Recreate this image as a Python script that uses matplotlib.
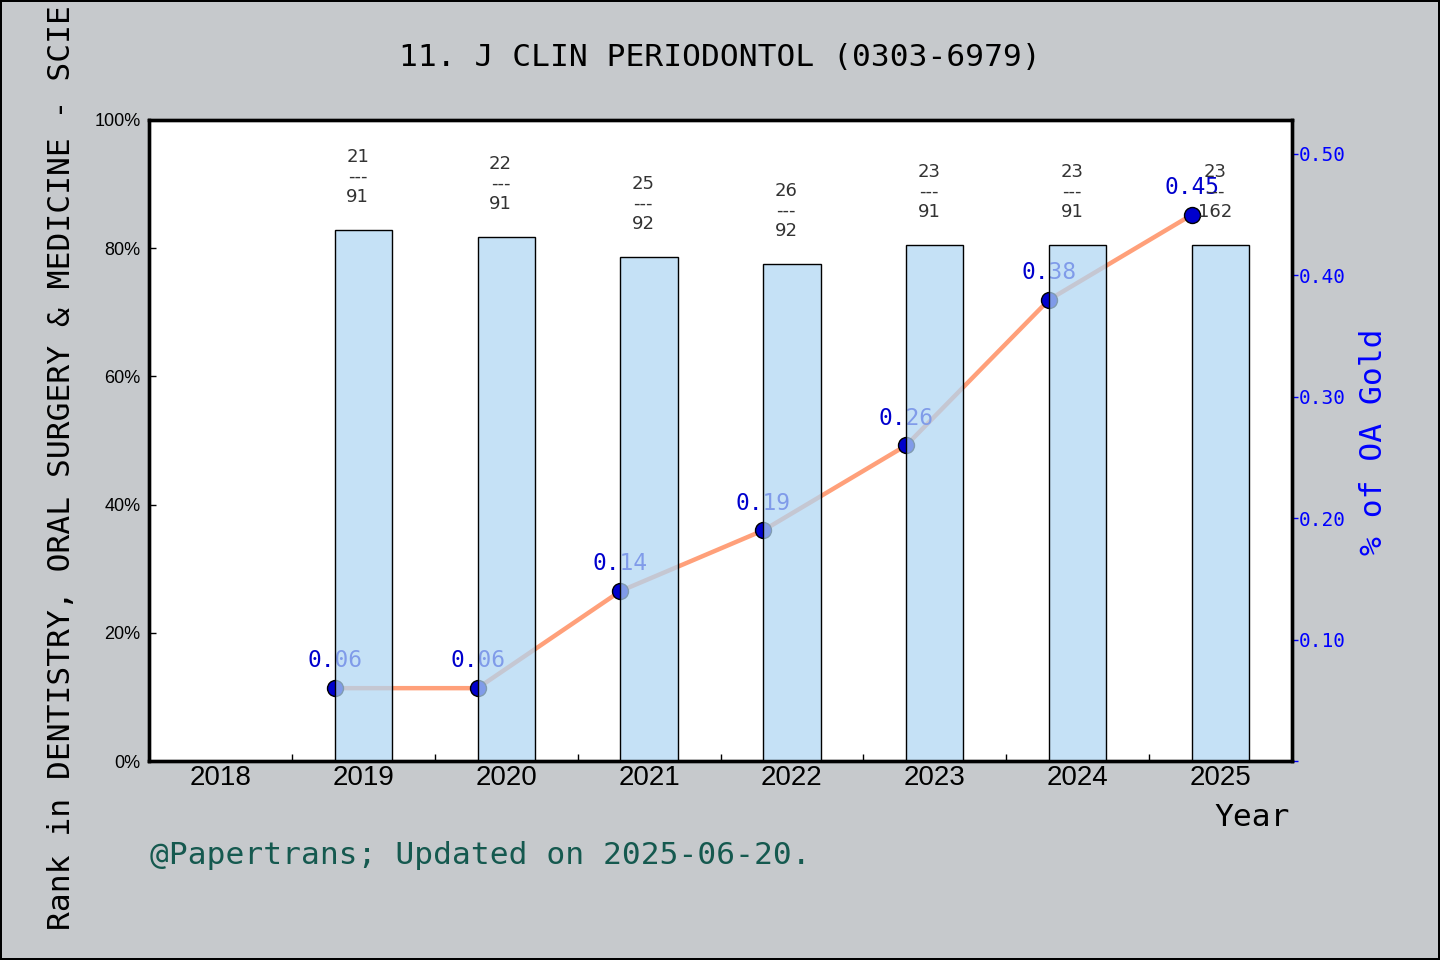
from matplotlib import pyplot as plt
from matplotlib.ticker import FixedLocator
import numpy as np

# data
years = ['2018', '2019', '2020', '2021', '2022', '2023', '2024', '2025']
bar_years = ['2019', '2020', '2021', '2022', '2023', '2024', '2025']
rank_pct = [82.8, 81.7, 78.6, 77.5, 80.5, 80.5, 80.5]
ranks = [21, 22, 25, 26, 23, 23, 23]
totals = [91, 91, 92, 92, 91, 91, 162]
oa_gold = [0.06, 0.06, 0.14, 0.19, 0.26, 0.38, 0.45]

title = '11. J CLIN PERIODONTOL (0303-6979)'
left_label = 'Rank in DENTISTRY, ORAL SURGERY & MEDICINE - SCIE'
right_label = '% of OA Gold'
note = '@Papertrans; Updated on 2025-06-20.'

mono = 'DejaVu Sans Mono'
sans = 'Liberation Sans'
bg = '#c6c9cc'

plt.rcParams['font.family'] = sans

fig = plt.figure(figsize=(14.4, 9.6), dpi=100, facecolor=bg,
                 edgecolor='black', linewidth=1.5)
ax = fig.add_axes([149/1440, 1 - 761/960, (1292 - 149)/1440, (761 - 120)/960])
ax2 = ax.twinx()

# line axis sits behind the bar axis so the translucent bars cover it
ax.set_zorder(ax2.get_zorder() + 1)
ax.patch.set_visible(False)
ax2.patch.set_visible(True)
ax2.patch.set_facecolor('white')

xpos = {y: i for i, y in enumerate(years)}
bx = np.array([xpos[y] for y in bar_years])

ax.bar(bx, rank_pct, width=0.4, color=(176/255, 214/255, 244/255, 0.73),
       edgecolor='black', linewidth=1.0)
for x, h, r, t in zip(bx, rank_pct, ranks, totals):
    ax.text(x - 0.04, h + 8.3, f'{r}\n---\n{t}', ha='center', va='center',
            fontsize=13, color='#333333', linespacing=1.15, family='DejaVu Sans')

lx = bx - 0.2
ax2.plot(lx, oa_gold, color='#ffa07a', linewidth=3.2, zorder=2)
ax2.plot(lx, oa_gold, 'o', markersize=11.5, markerfacecolor='mediumblue',
         markeredgecolor='black', markeredgewidth=1, zorder=3)
for x, v in zip(lx, oa_gold):
    ax2.text(x, v + 0.013, f'{v:.2f}', ha='center', va='bottom',
             fontsize=16.5, color='mediumblue', family=mono, zorder=4)

ax.set_xlim(-0.5, 7.5)
ax.set_ylim(0, 100)
ax2.set_ylim(0, 0.528)

ax.set_xticks(range(len(years)))
ax.set_xticklabels(years, fontsize=20)
ax.tick_params(axis='x', which='major', length=0, pad=3)
ax.xaxis.set_minor_locator(FixedLocator(np.arange(0.5, 7.6, 1.0)))
ax.tick_params(axis='x', which='minor', direction='in', length=5, width=1)

ax.set_yticks([0, 20, 40, 60, 80, 100])
ax.set_yticklabels(['0%', '20%', '40%', '60%', '80%', '100%'], fontsize=13)
ax.tick_params(axis='y', direction='in', length=5, width=1, pad=6)

ax2.set_yticks([0, 0.1, 0.2, 0.3, 0.4, 0.5])
ax2.set_yticklabels(['', '0.10', '0.20', '0.30', '0.40', '0.50'],
                    fontsize=14, color='blue', family=mono)
ax2.tick_params(axis='y', colors='blue', length=4, width=1, pad=1)

for a in (ax, ax2):
    for s in a.spines.values():
        s.set_linewidth(2.4)
        s.set_color('black')

fig.text(0.5, 1 - 57/960, title, ha='center', va='center', fontsize=22.5,
         family=mono, color='black')
fig.text(62/1440, 1 - 930/960, left_label, rotation=90, ha='center',
         va='bottom', fontsize=22.5, family=mono, color='black')
fig.text(1373/1440, 1 - 442/960, right_label, rotation=90, ha='center',
         va='center', fontsize=22.5, family=mono, color='blue')
fig.text(1290/1440, 1 - 817/960, 'Year', ha='right', va='center',
         fontsize=22.5, family=mono, color='black')
fig.text(150/1440, 1 - 855/960, note, ha='left', va='center', fontsize=22.5,
         family=mono, color='#15594f')

fig.savefig('out.png', dpi=100, facecolor=bg, edgecolor='black')
